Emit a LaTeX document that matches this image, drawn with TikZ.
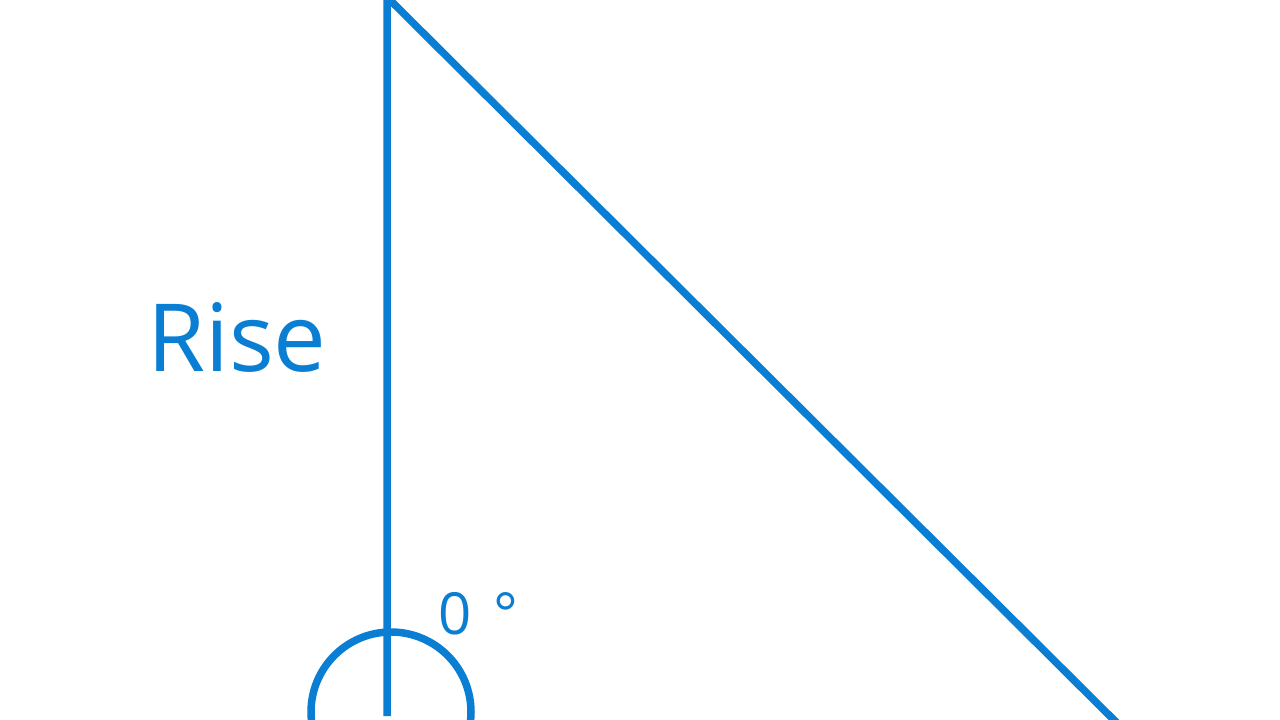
\documentclass[tikz,border=0pt]{standalone}
\usepackage{fontspec}
\setmainfont{Open Sans}
\definecolor{tblue}{HTML}{0A7ED2}
\begin{document}
\begin{tikzpicture}[x=1pt,y=-1pt,
  edge/.style={draw=tblue,line width=7.5pt},
  lbl/.style={text=tblue,inner sep=0pt,anchor=base west}]
\useasboundingbox (0,0) rectangle (1280,720);
\clip (0,0) rectangle (1280,720);
\fill[white] (0,0) rectangle (1280,720);
\coordinate (bot) at (387,716);
\coordinate (top) at (387,-3);
\coordinate (end) at (1118,724);
\coordinate (ctr) at (391,712);
\draw[edge,line join=miter] (bot) -- (top) -- (end);
\draw[edge] (ctr) circle[radius=80];
\node[lbl,font=\fontsize{94}{94}\selectfont] (rise) at (147,371) {Rise};
\node[lbl,font=\fontsize{58}{58}\selectfont] (ang) at (438,634) {0\hspace{0.12em} °};
\end{tikzpicture}
\end{document}
